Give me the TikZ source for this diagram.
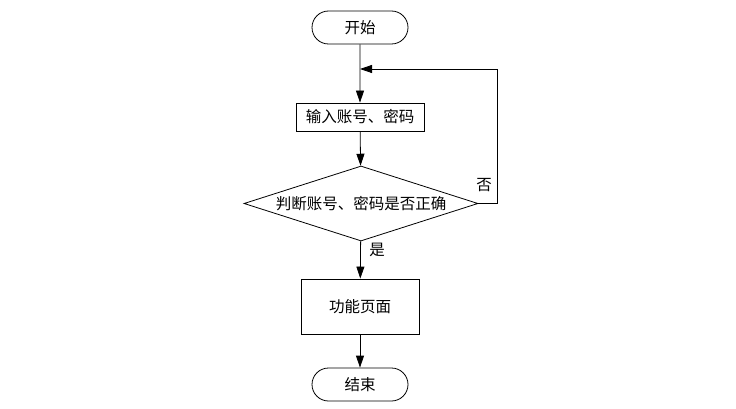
\documentclass[tikz,border=0pt]{standalone}
\usepackage{fontspec}
\setmainfont{Noto Sans CJK SC}
\usetikzlibrary{shapes.geometric,shapes.misc,arrows.meta}

\tikzset{
  terminal/.style={draw, rounded rectangle, minimum width=96pt, minimum height=33pt, inner sep=0pt},
  process/.style={draw, rectangle, inner sep=0pt},
  decision/.style={draw, diamond, aspect=3.12, minimum width=234pt, minimum height=75pt, inner sep=0pt},
  flow/.style={-{Triangle[length=12pt,width=8pt]}, black},
}

\begin{document}
\begin{tikzpicture}[x=1pt, y=-1pt, font=\fontsize{15.5}{17}\selectfont, line width=0.8pt]
  \useasboundingbox (0,0) rectangle (736,409);

  \node[terminal] (start) at (360,27.5) {开始};
  \node[process, minimum width=128pt, minimum height=28pt] (input) at (360,117) {输入账号、密码};
  \node[decision] (check) at (361,203.5) {判断账号、密码是否正确};
  \node[process, minimum width=118pt, minimum height=55pt] (func) at (360,306.5) {功能页面};
  \node[terminal] (stop) at (360,384.5) {结束};

  \coordinate (loopR) at (497,203.5);
  \coordinate (loopT) at (497,69);
  \coordinate (loopJ) at (360,69);

  \draw[flow] (start) -- (input);
  \draw[flow] (input) -- (check);
  \draw[flow] (check) -- (func);
  \draw[flow] (func) -- (stop);
  \draw[flow] (check.east) -- (loopR) -- (loopT) -- (loopJ);

  \node (no) at (484,185) {否};
  \node (yes) at (377,250) {是};
\end{tikzpicture}
\end{document}
